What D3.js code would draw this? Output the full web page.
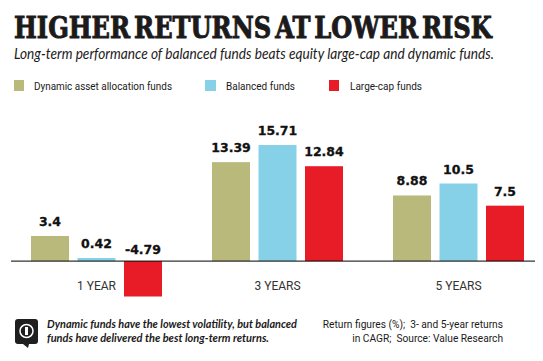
<!DOCTYPE html>
<html>
<head>
<meta charset="utf-8">
<script src="https://cdn.jsdelivr.net/npm/d3@7"></script>
<style>
  body { margin: 0; background: #fff; }
  svg { display: block; }
</style>
</head>
<body>
<svg id="drawing_region"></svg>
<script>
const periods = ['1 YEAR', '3 YEARS', '5 YEARS'];
const seriesNames = ['Dynamic asset allocation funds', 'Balanced funds', 'Large-cap funds'];
const dynamicFunds = [3.4, 13.39, 8.88];
const balancedFunds = [0.42, 15.71, 10.5];
const largeCapFunds = [-4.79, 12.84, 7.5];
const seriesValues = [dynamicFunds, balancedFunds, largeCapFunds];
const seriesColors = ['#b9b97c', '#86d1e8', '#e71c26'];
const noteLines = ['Dynamic funds have the lowest volatility, but balanced', 'funds have delivered the best long-term returns.'];
const sourceLines = ['Return figures (%);  3- and 5-year returns', 'in CAGR;  Source: Value Research'];

const width = 543, height = 361;
const ink = '#1c1a1a';
const sans = 'Roboto, "Noto Sans", sans-serif';

const svg = d3.select('#drawing_region').attr('width', width).attr('height', height);

// heading, squeezed to the width of the original with a scale
const title = svg.append('text')
    .attr('font-family', '"DejaVu Serif", serif')
    .attr('font-stretch', 'condensed')
    .attr('font-weight', 'bold')
    .attr('font-size', 30)
    .attr('word-spacing', -5)
    .attr('fill', ink).attr('stroke', ink).attr('stroke-width', 0.9)
    .text('HIGHER RETURNS AT LOWER RISK');
const titleScale = 478 / title.node().getComputedTextLength();
title.attr('transform', `translate(14, 38) scale(${titleScale}, 1)`);

svg.append('text')
    .attr('x', 14).attr('y', 59)
    .attr('textLength', 480).attr('lengthAdjust', 'spacingAndGlyphs')
    .attr('font-family', 'Lato, sans-serif')
    .attr('font-style', 'italic')
    .attr('font-size', 14.5)
    .attr('fill', ink)
    .text('Long-term performance of balanced funds beats equity large-cap and dynamic funds.');

// legend
const legendX = [14, 205, 329];
const legendW = [10, 11, 10];
const legendTextW = [138, 69, 72];
const legend = svg.selectAll('.legend')
    .data(seriesNames)
    .enter().append('g')
    .attr('class', 'legend')
    .attr('transform', (d, i) => `translate(${legendX[i]}, 80)`);
legend.append('rect')
    .attr('width', (d, i) => legendW[i]).attr('height', 11)
    .attr('fill', (d, i) => seriesColors[i]);
legend.append('text')
    .attr('x', (d, i) => i === 0 ? 20 : 21).attr('y', 10)
    .attr('textLength', (d, i) => legendTextW[i]).attr('lengthAdjust', 'spacingAndGlyphs')
    .attr('font-family', sans).attr('font-size', 11)
    .attr('fill', ink)
    .text(d => d);

// chart
const xscale = d3.scaleBand().domain(periods).range([31, 524]).paddingInner(50 / 181);
const xseries = d3.scaleBand().domain(d3.range(3)).range([0, xscale.bandwidth()]).paddingInner(0.183);
const yscale = d3.scaleLinear().domain([-4.79, 15.71]).range([296.5, 145]);

const groups = svg.selectAll('.period')
    .data(periods)
    .enter().append('g')
    .attr('class', 'period')
    .attr('transform', d => `translate(${xscale(d)}, 0)`);

groups.each(function(p, pi) {
    const g = d3.select(this);
    const row = seriesValues.map((vals, si) => ({ si, v: vals[pi] }));
    g.selectAll('rect')
        .data(row)
        .enter().append('rect')
        .attr('x', d => xseries(d.si))
        .attr('y', d => yscale(Math.max(d.v, 0)))
        .attr('width', xseries.bandwidth())
        .attr('height', d => Math.abs(yscale(d.v) - yscale(0)))
        .attr('fill', d => seriesColors[d.si]);
    g.selectAll('text')
        .data(row)
        .enter().append('text')
        .attr('x', d => xseries(d.si) + xseries.bandwidth() / 2)
        .attr('y', d => d.v < 0 ? yscale(0) - 7 : yscale(d.v) - 10)
        .attr('text-anchor', 'middle')
        .attr('font-family', '"DejaVu Sans", sans-serif')
        .attr('font-weight', 'bold')
        .attr('font-size', 12.5)
        .attr('fill', '#111').attr('stroke', '#111').attr('stroke-width', 0.3)
        .text(d => d.v);
});

// zero line + period labels
const axis = d3.axisBottom(xscale).tickSize(0).tickPadding(20);
const axisGroup = svg.append('g')
    .attr('transform', `translate(0, ${yscale(0)})`)
    .call(axis);
axisGroup.select('.domain').remove();
axisGroup.selectAll('text')
    .attr('font-family', sans).attr('font-size', 12)
    .attr('fill', '#333');
svg.append('line')
    .attr('x1', 11).attr('x2', 535)
    .attr('y1', yscale(0)).attr('y2', yscale(0))
    .attr('stroke', '#000').attr('stroke-width', 1);

// note icon
const icon = svg.append('g').attr('transform', 'translate(15, 319)');
icon.append('path')
    .attr('d', 'M3 0H20Q23 0 23 3V22Q23 25 20 25H14L13 29L8 25H3Q0 25 0 22V3Q0 0 3 0Z')
    .attr('fill', '#1f1f1f');
icon.append('circle').attr('cx', 11.5).attr('cy', 12).attr('r', 6.5)
    .attr('fill', '#1f1f1f').attr('stroke', '#fff').attr('stroke-width', 1.5);
icon.append('rect').attr('x', 10).attr('y', 8).attr('width', 3).attr('height', 8).attr('fill', '#fff');

// footer
svg.selectAll('.note')
    .data(noteLines)
    .enter().append('text')
    .attr('class', 'note')
    .attr('x', 47).attr('y', (d, i) => 328 + i * 14)
    .attr('font-family', 'Lato, sans-serif')
    .attr('font-style', 'italic').attr('font-weight', 'bold')
    .attr('font-size', 11)
    .attr('fill', ink)
    .attr('textLength', (d, i) => i === 0 ? 250 : 222).attr('lengthAdjust', 'spacingAndGlyphs')
    .text(d => d);
svg.selectAll('.source')
    .data(sourceLines)
    .enter().append('text')
    .attr('class', 'source')
    .attr('x', 503).attr('y', (d, i) => 328 + i * 14)
    .attr('text-anchor', 'end')
    .attr('font-family', sans).attr('font-size', 10.2)
    .attr('fill', ink)
    .attr('xml:space', 'preserve')
    .text(d => d);
</script>
</body>
</html>
